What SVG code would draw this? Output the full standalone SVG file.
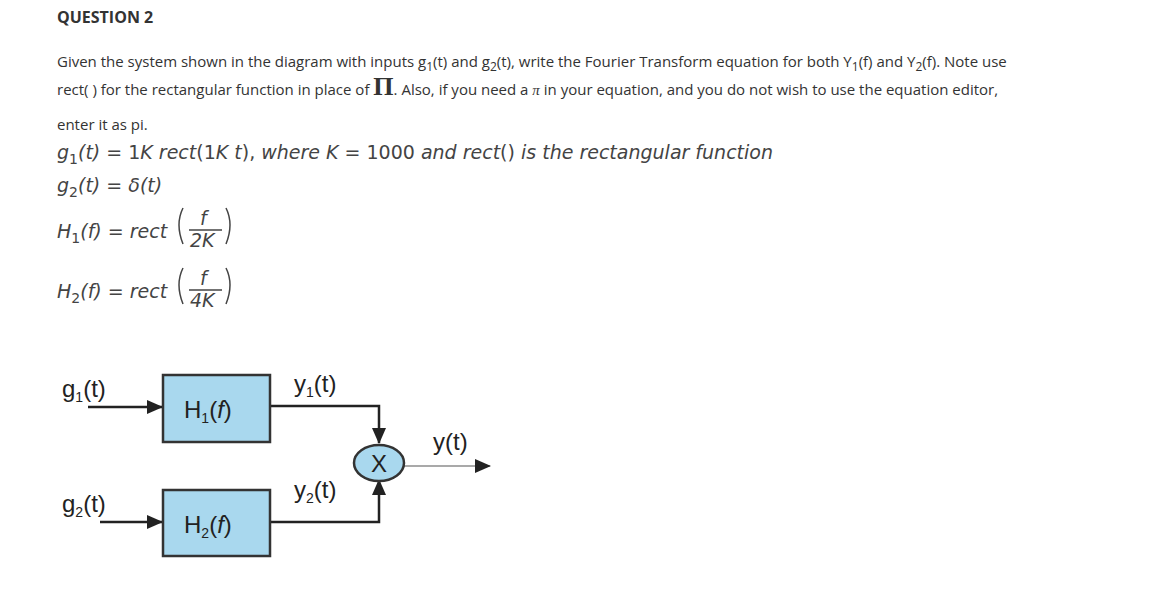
<svg xmlns="http://www.w3.org/2000/svg" width="1153" height="601" viewBox="0 0 1153 601">
<style>
.t{font-family:"Open Sans","Liberation Sans",sans-serif;font-size:15px;fill:#333}
.m{font-family:"DejaVu Sans","Liberation Sans",sans-serif;font-size:19px;fill:#444;font-style:italic}
.mn{font-family:"DejaVu Sans","Liberation Sans",sans-serif;font-size:19px;fill:#444}
.d{font-family:"Liberation Sans",Arial,sans-serif;font-size:24px;fill:#222}
.box{fill:#a9d8ee;stroke:#333;stroke-width:2.5}
.ln{fill:none;stroke:#222;stroke-width:2.5}
</style>
<defs><marker id="a" markerWidth="8" markerHeight="8" refX="7" refY="4" orient="auto" markerUnits="userSpaceOnUse" viewBox="0 0 8 8"><path d="M0,0L8,4L0,8z" fill="#222"/></marker>
<marker id="b" markerWidth="16" markerHeight="14" refX="15" refY="7" orient="auto" markerUnits="userSpaceOnUse" viewBox="0 0 16 14"><path d="M0,0L16,7L0,14z" fill="#222"/></marker></defs>
<rect width="1153" height="601" fill="#fff"/>
<text class="t" x="57" y="23" style="font-weight:bold;font-size:16px">QUESTION 2</text>
<text class="t" x="57" y="67">Given the system shown in the diagram with inputs g<tspan dy="4" font-size="12">1</tspan><tspan dy="-4">(t) and g</tspan><tspan dy="4" font-size="12">2</tspan><tspan dy="-4">(t), write the Fourier Transform equation for both Y</tspan><tspan dy="4" font-size="12">1</tspan><tspan dy="-4">(f) and Y</tspan><tspan dy="4" font-size="12">2</tspan><tspan dy="-4">(f).  Note use</tspan></text>
<text class="t" x="57" y="95">rect( ) for the rectangular function in place of <tspan font-size="26" font-family="Liberation Serif,serif" font-weight="bold">Π</tspan>.  Also, if you need a <tspan font-family="Liberation Serif,serif" font-style="italic">π</tspan> in your equation, and you do not wish to use the equation editor,</text>
<text class="t" x="57" y="130">enter it as pi.</text>
<text class="m" x="57" y="159">g<tspan dy="5" font-size="14" font-style="normal">1</tspan><tspan dy="-5">(t)</tspan><tspan font-style="normal"> = 1</tspan>K rect<tspan font-style="normal">(1</tspan>K t<tspan font-style="normal">),</tspan>  where K <tspan font-style="normal">= 1000</tspan> and rect<tspan font-style="normal">()</tspan> is the rectangular function</text>
<text class="m" x="57" y="192">g<tspan dy="5" font-size="14" font-style="normal">2</tspan><tspan dy="-5">(t)</tspan><tspan font-style="normal"> = </tspan>δ(t)</text>
<text class="m" x="57" y="238">H<tspan dy="5" font-size="14" font-style="normal">1</tspan><tspan dy="-5">(f)</tspan><tspan font-style="normal"> = </tspan>rect</text>
<text class="m" x="57" y="298">H<tspan dy="5" font-size="14" font-style="normal">2</tspan><tspan dy="-5">(f)</tspan><tspan font-style="normal"> = </tspan>rect</text>
<path d="M183,208q-8,16 0,36M226,208q8,16 0,36M183,268q-8,16 0,36M226,268q8,16 0,36" fill="none" stroke="#444" stroke-width="1.5"/>
<text class="m" x="200" y="225">f</text><line x1="189" y1="230" x2="222" y2="230" stroke="#444" stroke-width="1.3"/><text class="m" x="190" y="247">2K</text>
<text class="m" x="200" y="285">f</text><line x1="189" y1="290" x2="222" y2="290" stroke="#444" stroke-width="1.3"/><text class="m" x="190" y="307">4K</text>
<g id="connectors">
<path class="ln" d="M88,407H162" marker-end="url(#b)"/>
<path class="ln" d="M100,522H162" marker-end="url(#b)"/>
<path class="ln" d="M270,406H379V443" marker-end="url(#b)"/>
<path class="ln" d="M270,522H379V480" marker-end="url(#b)"/>
<path d="M404,466H490" stroke="#555" stroke-width="1.2" marker-end="url(#b)"/>
</g>
<g id="g1"><text class="d" x="62" y="397">g<tspan font-size="14" dy="5">1</tspan><tspan dy="-5">(t)</tspan></text></g>
<g id="g2"><text class="d" x="62" y="512">g<tspan font-size="14" dy="5">2</tspan><tspan dy="-5">(t)</tspan></text></g>
<g id="H1"><rect class="box" x="163" y="375" width="107" height="67"/><text class="d" x="184" y="418">H<tspan font-size="14" dy="5">1</tspan><tspan dy="-5">(<tspan font-style="italic">f</tspan>)</tspan></text></g>
<g id="H2"><rect class="box" x="163" y="490" width="107" height="66"/><text class="d" x="184" y="533">H<tspan font-size="14" dy="5">2</tspan><tspan dy="-5">(<tspan font-style="italic">f</tspan>)</tspan></text></g>
<g id="y1"><text class="d" x="294" y="392">y<tspan font-size="14" dy="5">1</tspan><tspan dy="-5">(t)</tspan></text></g>
<g id="y2"><text class="d" x="294" y="498">y<tspan font-size="14" dy="5">2</tspan><tspan dy="-5">(t)</tspan></text></g>
<g id="mult"><ellipse class="box" cx="379" cy="463" rx="25" ry="18"/><text class="d" x="379" y="472" text-anchor="middle">X</text></g>
<g id="y"><text class="d" x="433" y="450">y(t)</text></g>
</svg>
